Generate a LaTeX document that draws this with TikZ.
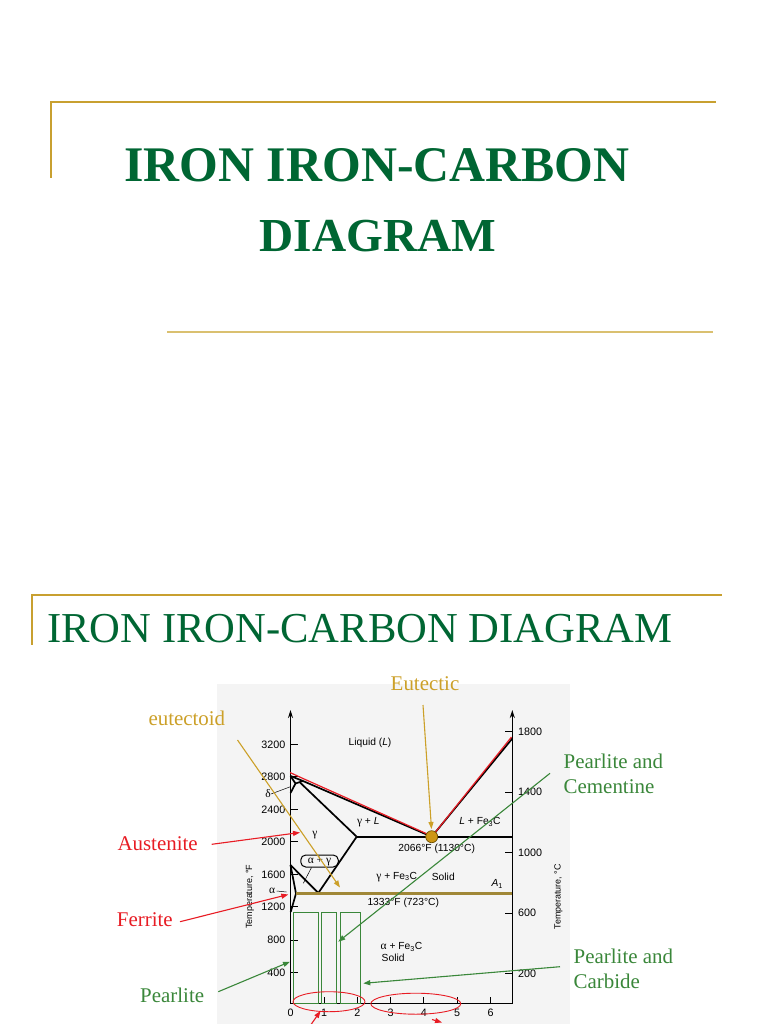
\documentclass[tikz,border=0pt]{standalone}
\usepackage{fontspec}
\setmainfont{Liberation Serif}
\newfontfamily\dsans{Liberation Sans}
\usetikzlibrary{arrows.meta}
\definecolor{titlegreen}{RGB}{0,102,51}
\definecolor{rulegold}{RGB}{200,160,48}
\definecolor{rulelight}{RGB}{218,192,112}
\definecolor{annGold}{RGB}{204,160,40}
\definecolor{annRed}{RGB}{232,28,36}
\definecolor{annGreen}{RGB}{58,135,58}
\definecolor{eutoid}{RGB}{160,135,55}
\definecolor{bgGray}{RGB}{244,244,244}
\definecolor{dotGold}{RGB}{205,150,20}
\newcommand\grk[1]{{\rmfamily\fontsize{11.5}{13}\selectfont #1}}
\begin{document}
\begin{tikzpicture}[x=1bp,y=-1bp,
  rule/.style={line width=2bp, color=rulegold},
  rulelite/.style={line width=2bp, color=rulelight},
  ttl/.style={font=\fontsize{50}{56}\selectfont\bfseries, text=titlegreen, inner sep=0, anchor=base},
  ttlb/.style={font=\fontsize{47.5}{56}\selectfont\bfseries, text=titlegreen, inner sep=0, anchor=base},
  ttltwo/.style={font=\fontsize{42.8}{48}\selectfont, text=titlegreen, inner sep=0, anchor=base west},
  ann/.style={font=\fontsize{21}{24}\selectfont, inner sep=0, anchor=base west},
  arr/.style={line width=1.1bp, -{Triangle[length=7bp,width=5bp]}},
  phase/.style={line width=1.7bp, black, line join=round},
  axisline/.style={line width=1.5bp, black},
  lbl/.style={font=\dsans\fontsize{10.3}{12}\selectfont, inner sep=0},
  tlbl/.style={font=\dsans\fontsize{10.8}{12}\selectfont, inner sep=0},
  axt/.style={font=\dsans\fontsize{9}{11}\selectfont, inner sep=0, rotate=90},
  tickline/.style={line width=1bp},
  leader/.style={line width=0.5bp},
  greenbox/.style={draw=annGreen, line width=0.9bp},
  redring/.style={draw=annRed, line width=0.9bp}
]
\useasboundingbox (0,0) rectangle (768,1024);
\fill[white] (0,0) rectangle (768,1024);

% ---------- title slide ----------
\draw[rule] (50,102) -- (716,102);
\draw[rule] (51,101) -- (51,178);
\node[ttl] (title1) at (377,181) {IRON IRON-CARBON};
\node[ttlb] (title2) at (378,251) {DIAGRAM};
\draw[rulelite] (167,332) -- (713,332);

% ---------- second slide ----------
\draw[rule] (32,595) -- (722,595);
\draw[rule] (32,594) -- (32,645);
\node[ttltwo] (title3) at (47,642) {IRON IRON-CARBON DIAGRAM};

% diagram background
\fill[bgGray] (217,684) rectangle (570,1024);

% axes
\draw[axisline, -{Stealth[length=8bp,width=5bp]}] (290.5,1003.5) -- (290.5,710);
\draw[axisline, -{Stealth[length=8bp,width=5bp]}] (512.3,1003.5) -- (512.3,710);
\draw[axisline] (290.5,1003.5) -- (512.3,1003.5);

% left ticks (F)
\foreach \v/\yy in {3200/744.3, 2800/776.7, 2400/809.3, 2000/841.7, 1600/874.3, 1200/906.7, 800/940, 400/972.3} {
  \draw[tickline] (290.5,\yy) -- (297.5,\yy);
  \node[tlbl, anchor=east] (tf\v) at (285.5,\yy) {\v};
}
% right ticks (C)
\foreach \v/\yy in {1800/731.7, 1400/792, 1000/852.5, 600/913, 200/973.4} {
  \draw[tickline] (505,\yy) -- (512.3,\yy);
  \node[tlbl, anchor=west] (tc\v) at (518,\yy) {\v};
}
% bottom ticks
\foreach \k in {1,...,6} {
  \draw[tickline] ({290.7+33.3*\k},1003.5) -- ++(0,-7);
}
\foreach \k in {0,...,6} {
  \node[tlbl] (tx\k) at ({290.7+33.3*\k},1012.5) {\k};
}

\node[axt] (axF) at (250,896.7) {Temperature, °F};
\node[axt] (axC) at (558.3,896.7) {Temperature, °C};

% ---------- phase boundaries ----------
% liquidus (black)
\draw[phase] (290.5,776) -- (303,781) -- (431.7,836.7) -- (512.3,738.5);
% delta region
\draw[phase] (290.5,776) -- (295.5,783.5) -- (290.5,793);
\draw[phase] (295.5,783.5) -- (303,781);
% solidus of gamma
\draw[phase] (300,782.5) -- (356.7,836.7);
% eutectic line
\draw[phase] (356.7,836.7) -- (512.3,836.7);
% Acm
\draw[phase] (356.7,836.7) -- (318.3,893);
% A3
\draw[phase] (290.5,865) -- (318.3,893);
% alpha region
\draw[phase] (290.5,865) -- (296,893.5) -- (290.7,912);
% eutectoid line
\draw[line width=2.2bp, eutoid] (296,893.5) -- (512.3,893.5);
% red overlay of liquidus
\draw[annRed, line width=1.2bp] (290,772.5) -- (303,778.5) -- (430,835.2);
\draw[annRed, line width=1.2bp] (433.5,834.5) -- (511.5,737);

% eutectic point
\node[circle, fill=dotGold, draw={rgb,255:red,110;green,80;blue,0}, line width=0.7bp, minimum size=12bp, inner sep=0] (eut) at (431.7,836.7) {};

% ---------- region labels ----------
\node[lbl] (liq) at (370,742.7) {Liquid (\textit{L})};
\node[lbl] (gl) at (368.3,821.7) {\grk{γ} + \textit{L}};
\node[lbl] (lfe) at (480,821.7) {\textit{L} + Fe\textsubscript{3}C};
\node[lbl] (t2066) at (436.7,849.3) {2066°F (1130°C)};
\node[lbl] (gam) at (315,835) {\grk{γ}};
\node[lbl] (gfe) at (396.7,876.7) {\grk{γ} + Fe\textsubscript{3}C};
\node[lbl] (sol1) at (443.3,876.7) {Solid};
\node[lbl] (aone) at (497.3,884) {\textit{A}\textsubscript{1}};
\node[lbl] (t1333) at (403.3,903.3) {1333°F (723°C)};
\node[lbl, anchor=west] (afe) at (380.5,946.7) {\grk{α} + Fe\textsubscript{3}C};
\node[lbl, anchor=west] (sol2) at (381.5,958.3) {Solid};

\node[lbl, draw, rounded corners=5bp, line width=1bp, minimum width=37.5bp, minimum height=12bp] (ag) at (319.5,861) {\grk{α + γ}};
\coordinate (agT) at (303.3,883.3);
\draw[leader] ([xshift=-8bp]ag.south) -- (agT);

\node[lbl] (dlt) at (268,794) {\grk{δ}};
\coordinate (dltT) at (291,786.5);
\draw[leader] (dlt.east) -- (dltT);

\node[lbl] (alp) at (272,891) {\grk{α}};
\coordinate (alpT) at (286.5,892);
\draw[leader] ([xshift=1.5bp]alp.east) -- (alpT);

% green rectangles
\draw[greenbox] (293.3,912.5) rectangle (318.5,1003.3);
\draw[greenbox] (321.7,912.5) rectangle (336,1003.3);
\draw[greenbox] (340.8,912.5) rectangle (360,1003.3);

% red ellipses
\draw[redring] (329,1001.7) ellipse [x radius=36bp, y radius=10bp];
\draw[redring] (415.8,1003.7) ellipse [x radius=45bp, y radius=10.5bp];

% ---------- annotations ----------
\node[ann, text=annGold, anchor=base] (eutL) at (425,690) {Eutectic};
\coordinate (eutS) at (423,705);
\coordinate (eutT) at (431.5,829);
\draw[arr, annGold] (eutS) -- (eutT);

\node[ann, text=annGold] (eudL) at (148.3,725) {eutectoid};
\coordinate (eudS) at (237.5,740);
\coordinate (eudT) at (340,887.5);
\draw[arr, annGold] (eudS) -- (eudT);

\node[ann, text=annRed] (ausL) at (117.3,850) {Austenite};
\coordinate (ausS) at (211.7,844.3);
\coordinate (ausT) at (300,832.5);
\draw[arr, annRed] (ausS) -- (ausT);

\node[ann, text=annRed] (ferL) at (116.7,926.5) {Ferrite};
\coordinate (ferS) at (180,921.7);
\coordinate (ferT) at (288.3,894.5);
\draw[arr, annRed] (ferS) -- (ferT);

\node[ann, text=annGreen] (peaL) at (140,1002) {Pearlite};
\coordinate (peaS) at (218.3,991.7);
\coordinate (peaT) at (290,961.7);
\draw[arr, annGreen] (peaS) -- (peaT);

\node[ann, text=annGreen] (pcA) at (563.5,768) {Pearlite and};
\node[ann, text=annGreen] (pcB) at (563.5,793) {Cementine};
\coordinate (pcS) at (550,773.3);
\coordinate (pcT) at (338.3,941.7);
\draw[arr, annGreen] (pcS) -- (pcT);

\node[ann, text=annGreen] (pkA) at (573.5,963) {Pearlite and};
\node[ann, text=annGreen] (pkB) at (573.5,988) {Carbide};
\coordinate (pkS) at (560,966.7);
\coordinate (pkT) at (363.3,983.3);
\draw[arr, annGreen] (pkS) -- (pkT);

% red arrows at the bottom edge
\coordinate (rbS) at (310,1026);
\coordinate (rbT) at (320.5,1011);
\draw[arr, annRed] (rbS) -- (rbT);
\coordinate (rcS) at (432,1019.5);
\coordinate (rcT) at (442,1022.5);
\draw[arr, annRed] (rcS) -- (rcT);
\end{tikzpicture}
\end{document}
